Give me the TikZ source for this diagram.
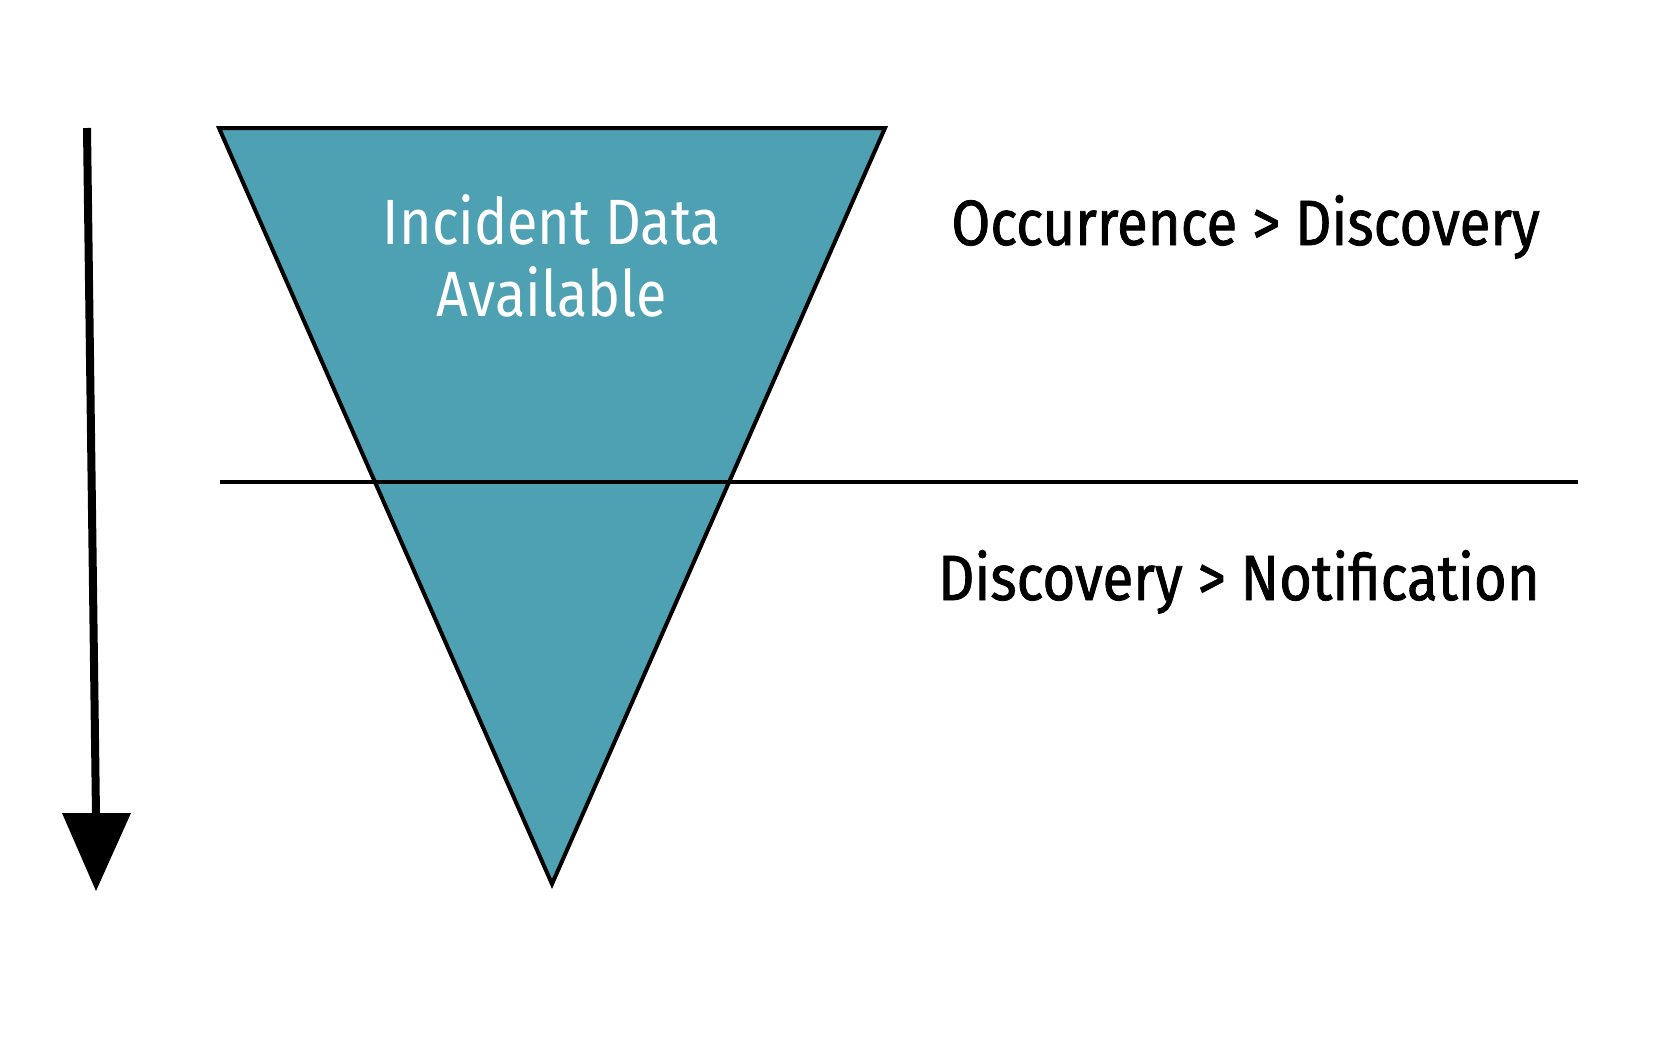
\documentclass[tikz,border=0pt]{standalone}
\usepackage{fontspec}
\setmainfont{Fira Sans}[FakeStretch=0.87]
\newfontfamily\darkfont{Fira Sans}[FakeStretch=0.88,FakeBold=1.2]
\definecolor{teal1}{HTML}{4EA0B3}
\begin{document}
\begin{tikzpicture}[x=1pt,y=-1pt,
  lbl/.style={inner sep=0pt,font=\fontsize{64}{70}\selectfont},
  dlbl/.style={inner sep=0pt,font=\darkfont\fontsize{64}{70}\selectfont},
  funnel/.style={fill=teal1,draw=black,line width=4pt,line join=miter}]
\useasboundingbox (0,0) rectangle (1667,1042);
\fill[white] (0,0) rectangle (1667,1042);
% funnel
\coordinate (tl) at (219,128);
\coordinate (tr) at (885,128);
\coordinate (tip) at (552,884);
\draw[funnel] (tl) -- (tr) -- (tip) -- cycle;
% divider
\coordinate (la) at (220,482);
\coordinate (lb) at (1578,482);
\draw[line width=3.5pt] (la) -- (lb);
% time arrow
\coordinate (at) at (87,128);
\coordinate (ab) at (96,815);
\draw[line width=8pt] (at) -- (ab);
\fill[black] (62,813) -- (131,813) -- (96,891) -- cycle;
% labels
\node[lbl,text=white,anchor=base] (inc1) at (552,244) {Incident Data};
\node[lbl,text=white,anchor=base] (inc2) at (552,316) {Available};
\node[dlbl,anchor=base east] (occ) at (1540,245) {Occurrence > Discovery};
\node[dlbl,anchor=base east] (dis) at (1540,600) {Discovery > Notification};
\end{tikzpicture}
\end{document}
